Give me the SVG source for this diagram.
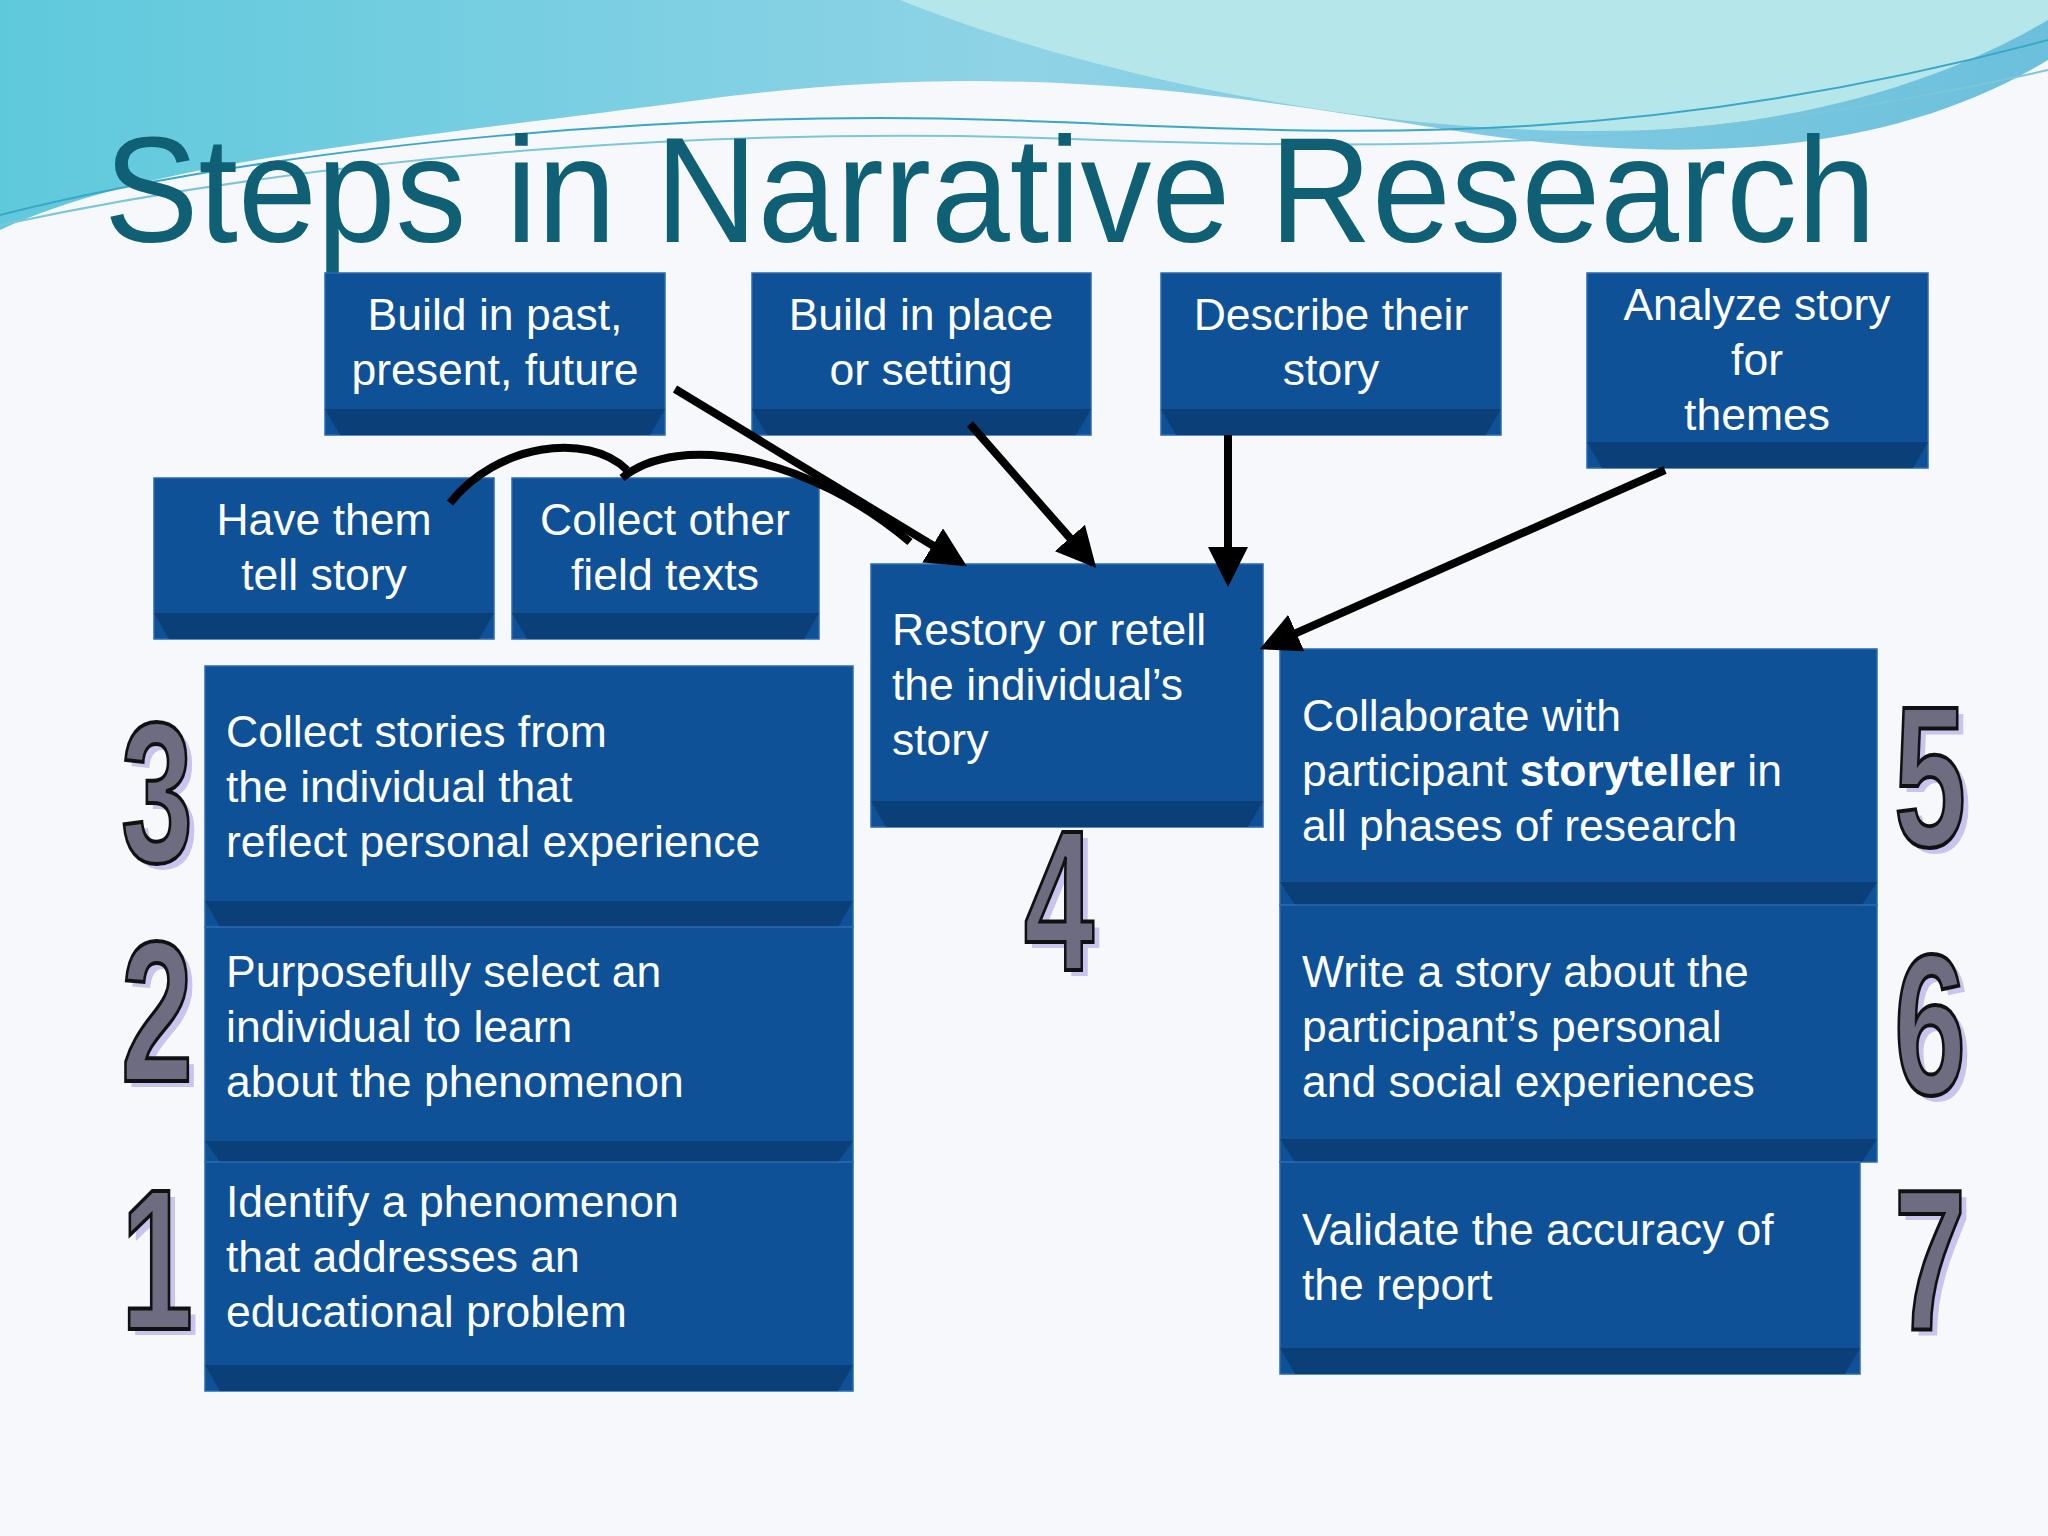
<svg xmlns="http://www.w3.org/2000/svg" width="2048" height="1536" viewBox="0 0 2048 1536">
<defs>
<linearGradient id="wave" x1="0" y1="0" x2="1" y2="0"><stop offset="0" stop-color="#5fc9dc"/><stop offset="0.5" stop-color="#8fd3e6"/><stop offset="1" stop-color="#6cc0dc"/></linearGradient>
<marker id="ah" viewBox="0 0 10 10" refX="8" refY="5" markerWidth="5" markerHeight="5" orient="auto"><path d="M0,0 L10,5 L0,10 z" fill="#000"/></marker>
<text id="n3" x="157" y="862" textLength="72" lengthAdjust="spacingAndGlyphs">3</text>
<text id="n2" x="157" y="1081" textLength="72" lengthAdjust="spacingAndGlyphs">2</text>
<text id="n1" x="157" y="1329" textLength="72" lengthAdjust="spacingAndGlyphs">1</text>
<text id="n4" x="1059" y="970" textLength="70" lengthAdjust="spacingAndGlyphs">4</text>
<text id="n5" x="1930" y="846" textLength="72" lengthAdjust="spacingAndGlyphs">5</text>
<text id="n6" x="1930" y="1094" textLength="72" lengthAdjust="spacingAndGlyphs">6</text>
<text id="n7" x="1930" y="1329" textLength="72" lengthAdjust="spacingAndGlyphs">7</text>
</defs>
<style>
.box{fill:#0e5196;stroke:#2a6ab0;stroke-width:1.5}
.bev{fill:#0b3f78}
.t{font-family:"Liberation Sans",Arial,sans-serif;font-size:44.5px;fill:#fff}
.c{text-anchor:middle}
.num{font-family:"Liberation Sans Narrow","Liberation Sans",sans-serif;font-weight:bold;font-size:200px;fill:#6d6c80;stroke:#111;stroke-width:4;text-anchor:middle}
.sh{font-family:"Liberation Sans Narrow","Liberation Sans",sans-serif;font-weight:bold;font-size:200px;fill:#c9c3f0;text-anchor:middle}
.ar{fill:none;stroke:#000;stroke-width:8}
</style>
<rect width="2048" height="1536" fill="#f7f8fb"/>
<path d="M0,0 H2048 V60 C1900,150 1700,170 1450,130 C1200,90 1000,60 700,100 C400,140 150,160 0,230 Z" fill="url(#wave)"/>
<path d="M900,0 C1100,80 1400,140 1650,130 C1850,120 1980,60 2048,20 V0 Z" fill="#b5e6ea"/>
<path d="M0,215 C300,140 700,110 1000,120 C1300,130 1600,160 2048,40" fill="none" stroke="#3aa7c8" stroke-width="2"/>
<path d="M0,225 C350,150 750,125 1100,140 C1400,150 1700,150 2048,70" fill="none" stroke="#7cc6da" stroke-width="2"/>
<text x="104" y="242" font-family="Liberation Sans,Arial,sans-serif" font-size="150" fill="#0f6075" textLength="1772" lengthAdjust="spacingAndGlyphs">Steps in Narrative Research</text>

<g id="past"><rect class="box" x="325" y="273" width="340" height="162"/><path class="bev" d="M325,409 H665 L650,435 H340 Z"/><text class="t c" x="495" y="330">Build in past,</text><text class="t c" x="495" y="385">present, future</text></g>
<g id="place"><rect class="box" x="752" y="273" width="339" height="162"/><path class="bev" d="M752,409 H1091 L1076,435 H767 Z"/><text class="t c" x="921" y="330">Build in place</text><text class="t c" x="921" y="385">or setting</text></g>
<g id="describe"><rect class="box" x="1161" y="273" width="340" height="162"/><path class="bev" d="M1161,409 H1501 L1486,435 H1176 Z"/><text class="t c" x="1331" y="330">Describe their</text><text class="t c" x="1331" y="385">story</text></g>
<g id="analyze"><rect class="box" x="1587" y="273" width="341" height="195"/><path class="bev" d="M1587,442 H1928 L1913,468 H1602 Z"/><text class="t c" x="1757" y="320">Analyze story</text><text class="t c" x="1757" y="375">for</text><text class="t c" x="1757" y="430">themes</text></g>
<g id="tell"><rect class="box" x="154" y="478" width="340" height="161"/><path class="bev" d="M154,613 H494 L479,639 H169 Z"/><text class="t c" x="324" y="535">Have them</text><text class="t c" x="324" y="590">tell story</text></g>
<g id="field"><rect class="box" x="512" y="478" width="307" height="161"/><path class="bev" d="M512,613 H819 L804,639 H527 Z"/><text class="t c" x="665" y="535">Collect other</text><text class="t c" x="665" y="590">field texts</text></g>
<g id="restory"><rect class="box" x="871" y="564" width="392" height="263"/><path class="bev" d="M871,801 H1263 L1248,827 H886 Z"/><text class="t" x="892" y="645">Restory or retell</text><text class="t" x="892" y="700">the individual’s</text><text class="t" x="892" y="755">story</text></g>
<g id="s3"><rect class="box" x="205" y="666" width="648" height="261"/><path class="bev" d="M205,901 H853 L838,927 H220 Z"/><text class="t" x="226" y="747">Collect stories from</text><text class="t" x="226" y="802">the individual that</text><text class="t" x="226" y="857">reflect personal experience</text></g>
<g id="s2"><rect class="box" x="205" y="927" width="648" height="235"/><path class="bev" d="M205,1141 H853 L838,1162 H220 Z"/><text class="t" x="226" y="987">Purposefully select an</text><text class="t" x="226" y="1042">individual to learn</text><text class="t" x="226" y="1097">about the phenomenon</text></g>
<g id="s1"><rect class="box" x="205" y="1162" width="648" height="229"/><path class="bev" d="M205,1365 H853 L838,1391 H220 Z"/><text class="t" x="226" y="1217">Identify a phenomenon</text><text class="t" x="226" y="1272">that addresses an</text><text class="t" x="226" y="1327">educational problem</text></g>
<g id="s5"><rect class="box" x="1280" y="649" width="597" height="256"/><path class="bev" d="M1280,882 H1877 L1862,905 H1295 Z"/><text class="t" x="1302" y="731">Collaborate with</text><text class="t" x="1302" y="786">participant <tspan font-weight="bold">storyteller</tspan> in</text><text class="t" x="1302" y="841">all phases of research</text></g>
<g id="s6"><rect class="box" x="1280" y="905" width="597" height="257"/><path class="bev" d="M1280,1139 H1877 L1862,1162 H1295 Z"/><text class="t" x="1302" y="987">Write a story about the</text><text class="t" x="1302" y="1042">participant’s personal</text><text class="t" x="1302" y="1097">and social experiences</text></g>
<g id="s7"><rect class="box" x="1280" y="1162" width="580" height="212"/><path class="bev" d="M1280,1348 H1860 L1845,1374 H1295 Z"/><text class="t" x="1302" y="1245">Validate the accuracy of</text><text class="t" x="1302" y="1300">the report</text></g>

<g id="numbers">
<g class="sh" transform="translate(6,6)"><use href="#n3"/><use href="#n2"/><use href="#n1"/><use href="#n4"/><use href="#n5"/><use href="#n6"/><use href="#n7"/></g>
<g class="num"><use href="#n3"/><use href="#n2"/><use href="#n1"/><use href="#n4"/><use href="#n5"/><use href="#n6"/><use href="#n7"/></g>
</g>

<g id="connectors">
<path class="ar" d="M675,389 L960,562" marker-end="url(#ah)"/>
<path class="ar" d="M970,424 L1091,562" marker-end="url(#ah)"/>
<path class="ar" d="M1228,435 L1228,579" marker-end="url(#ah)"/>
<path class="ar" d="M1665,470 L1267,646" marker-end="url(#ah)"/>
<path class="ar" stroke-width="10" d="M450,503 C496,444 588,431 627,470"/>
<path class="ar" stroke-width="10" d="M622,478 C679,431 810,457 910,542"/>
</g>
</svg>
